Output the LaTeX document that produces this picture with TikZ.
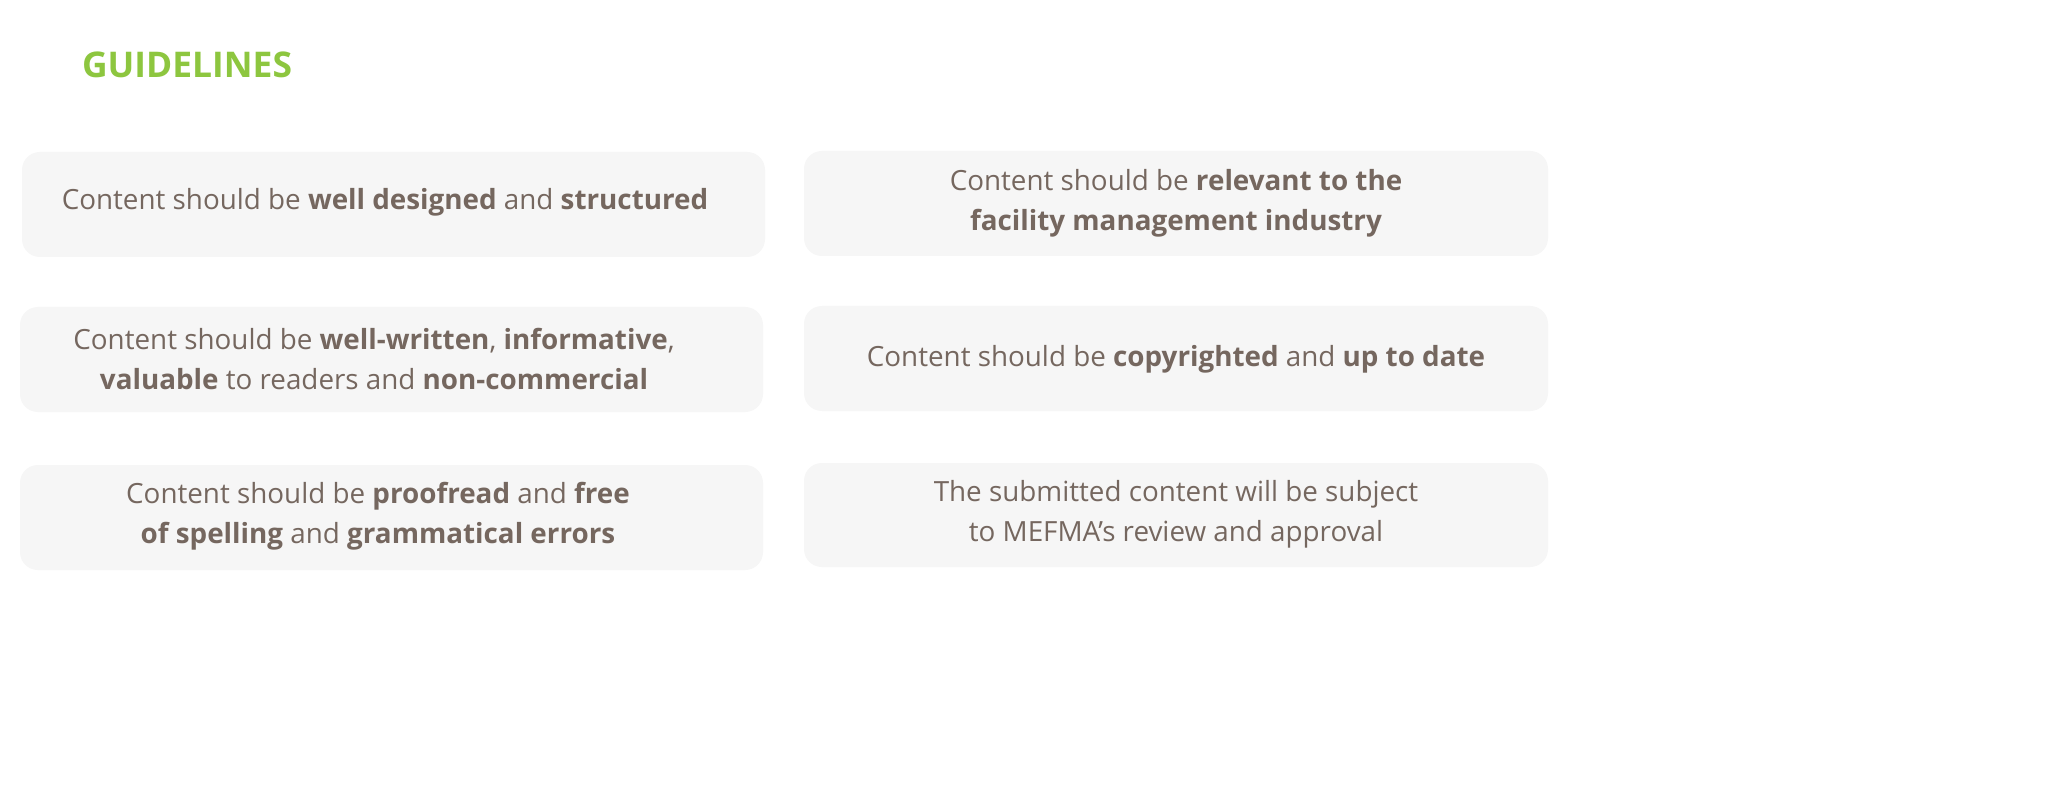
\documentclass[tikz,border=0pt]{standalone}
\usepackage{fontspec}
\setmainfont{Open Sans}
\definecolor{txt}{HTML}{75675F}
\definecolor{grn}{HTML}{8DC63F}
\definecolor{boxf}{HTML}{F6F6F6}
\tikzset{gbox/.style={fill=boxf,draw=none,rounded corners=9pt},
  gtxt/.style={text=txt,font=\fontsize{13.9}{20}\selectfont,align=center}}
\begin{document}
\begin{tikzpicture}[x=0.5pt,y=-0.5pt]
\useasboundingbox[fill=white] (0,0) rectangle (2048,807);
\node[anchor=west,text=grn,font=\fontsize{17.7}{22}\selectfont\bfseries] (title) at (75,65) {GUIDELINES};
\fill[gbox] (22,152) rectangle (765,257);
\fill[gbox] (804,151) rectangle (1548,256);
\fill[gbox] (20,307) rectangle (763,412);
\fill[gbox] (804,306) rectangle (1548,411);
\fill[gbox] (20,465) rectangle (763,570);
\fill[gbox] (804,463) rectangle (1548,567);
\node[gtxt] (a) at (385,202) {Content should be \textbf{well designed} and \textbf{structured}};
\node[gtxt] (b) at (1176,203) {Content should be \textbf{relevant to the}\\\textbf{facility management industry}};
\node[gtxt] (c) at (374,359) {Content should be \textbf{well-written}, \textbf{informative},\\\textbf{valuable} to readers and \textbf{non-commercial}};
\node[gtxt] (d) at (1176,359) {Content should be \textbf{copyrighted} and \textbf{up to date}};
\node[gtxt] (e) at (378,516) {Content should be \textbf{proofread} and \textbf{free}\\\textbf{of spelling} and \textbf{grammatical errors}};
\node[gtxt] (f) at (1176,514) {The submitted content will be subject\\to MEFMA’s review and approval};
\end{tikzpicture}
\end{document}
